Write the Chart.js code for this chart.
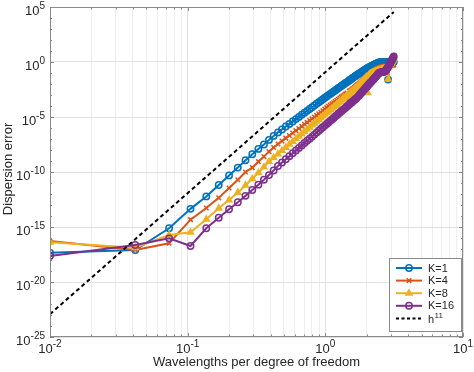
<!DOCTYPE html>
<html><head><meta charset="utf-8">
<script src="https://cdn.jsdelivr.net/npm/chart.js@4.4.1/dist/chart.umd.min.js"></script>
<style>html,body{margin:0;padding:0;background:#fff;}#wrap{width:474px;height:372px;position:relative;}</style>
</head><body><div id="wrap"><canvas id="c" width="474" height="372"></canvas></div>
<script>
// x values: wavelengths per degree of freedom
const wavelengths = [0.0100,0.0416,0.0733,0.1049,0.1365,0.1682,0.1998,0.2314,0.2631,0.2947,
0.3263,0.3580,0.3896,0.4212,0.4529,0.4845,0.5161,0.5478,0.5794,0.6110,
0.6427,0.6743,0.7059,0.7376,0.7692,0.8008,0.8325,0.8641,0.8957,0.9274,
0.9590,0.9906,1.0223,1.0539,1.0855,1.1172,1.1488,1.1804,1.2121,1.2437,
1.2753,1.3069,1.3386,1.3702,1.4018,1.4335,1.4651,1.4967,1.5284,1.5600,
1.5916,1.6233,1.6549,1.6865,1.7182,1.7498,1.7814,1.8131,1.8447,1.8763,
1.9080,1.9396,1.9712,2.0029,2.0345,2.0661,2.0978,2.1294,2.1610,2.1927,
2.2243,2.2559,2.2876,2.3192,2.3508,2.3825,2.4141,2.4457,2.4774,2.5090,
2.5406,2.5723,2.6039,2.6355,2.6672,2.6988,2.7304,2.7621,2.7937,2.8253,
2.8570,2.8886,2.9202,2.9519,2.9835,3.0151,3.0468,3.0784,3.1100,3.1416];

// log10 of dispersion error
const logErrK1 = [-17.34,-17.09,-15.12,-13.35,-12.22,-11.18,-10.31,-9.60,-8.93,-8.38,
-7.90,-7.50,-7.08,-6.72,-6.40,-6.13,-5.87,-5.63,-5.41,-5.19,
-4.99,-4.80,-4.61,-4.44,-4.27,-4.11,-3.95,-3.80,-3.65,-3.52,
-3.38,-3.25,-3.13,-3.01,-2.90,-2.79,-2.68,-2.58,-2.47,-2.37,
-2.28,-2.18,-2.09,-2.00,-1.91,-1.83,-1.74,-1.66,-1.58,-1.50,
-1.42,-1.35,-1.27,-1.20,-1.14,-1.07,-1.01,-0.94,-0.88,-0.82,
-0.76,-0.70,-0.65,-0.59,-0.54,-0.50,-0.46,-0.42,-0.37,-0.33,
-0.29,-0.25,-0.21,-0.17,-0.14,-0.11,-0.08,-0.05,-0.03,-0.01,
-0.01,0.00,0.00,0.00,0.00,0.00,0.00,0.00,0.00,0.00,
-1.60,0.00,0.00,0.00,0.00,0.00,0.00,0.00,0.00,0.00];

const logErrK4 = [-16.27,-17.09,-16.48,-14.33,-13.27,-12.35,-11.45,-10.70,-10.00,-9.60,
-9.06,-8.60,-8.15,-7.77,-7.45,-7.18,-6.92,-6.68,-6.46,-6.24,
-6.04,-5.85,-5.66,-5.49,-5.32,-5.16,-5.00,-4.85,-4.70,-4.57,
-4.43,-4.28,-4.15,-4.03,-3.92,-3.81,-3.70,-3.59,-3.48,-3.38,
-3.28,-3.18,-3.09,-3.00,-2.91,-2.83,-4.05,-2.65,-2.57,-2.49,
-2.41,-2.33,-2.23,-2.14,-2.06,-1.97,-1.89,-1.80,-1.72,-1.64,
-1.56,-1.48,-1.41,-1.33,-1.26,-1.20,-1.14,-1.08,-1.01,-0.95,
-0.89,-0.83,-0.77,-0.71,-0.66,-0.61,-0.57,-0.53,-0.50,-0.47,
-0.46,-0.44,-0.43,-0.42,-0.41,-0.40,-0.39,-0.38,-0.37,-0.36,
-0.35,-0.34,-0.33,-0.32,-0.31,-0.30,-0.29,-0.28,-0.27,-0.26];

const logErrK8 = [-16.39,-16.88,-15.73,-15.48,-14.30,-13.30,-12.55,-11.86,-11.22,-10.62,
-10.08,-9.55,-9.06,-8.70,-8.37,-8.06,-7.77,-7.49,-7.23,-6.99,
-6.76,-6.54,-6.32,-6.12,-5.93,-5.74,-5.57,-5.39,-5.23,-5.07,
-4.91,-4.76,-4.62,-4.48,-4.34,-4.21,-4.08,-3.96,-3.84,-3.72,
-3.60,-3.49,-3.38,-3.27,-3.17,-3.06,-2.96,-2.86,-2.77,-2.67,
-2.58,-2.49,-2.40,-2.31,-2.21,-2.10,-2.00,-1.90,-1.80,-1.71,
-1.61,-1.52,-1.43,-1.34,-2.80,-1.20,-1.13,-1.07,-1.02,-0.98,
-0.95,-0.92,-0.89,-0.86,-0.83,-0.80,-0.78,-0.76,-0.74,-0.72,
-0.70,-0.68,-0.66,-0.64,-0.62,-0.60,-0.58,-0.56,-0.54,-0.52,
-1.55,-0.45,-0.35,-0.25,-0.15,-0.05,0.05,0.15,0.25,0.36];

const logErrK16 = [-17.64,-16.64,-16.03,-16.73,-15.12,-14.16,-13.38,-12.75,-12.17,-11.63,
-11.15,-10.71,-10.28,-9.86,-9.45,-9.13,-8.84,-8.56,-8.29,-8.05,
-7.81,-7.58,-7.37,-7.16,-6.97,-6.78,-6.60,-6.42,-6.25,-6.09,
-5.93,-5.78,-5.63,-5.49,-5.35,-5.22,-5.08,-4.96,-4.83,-4.71,
-4.59,-4.48,-4.37,-4.26,-4.15,-4.05,-3.94,-3.84,-3.75,-3.65,
-3.55,-3.46,-3.37,-3.28,-3.17,-3.06,-2.95,-2.84,-2.74,-2.64,
-2.53,-2.43,-2.34,-2.24,-2.14,-2.05,-1.96,-1.87,-1.78,-1.69,
-1.60,-1.52,-1.43,-1.35,-1.27,-1.17,-1.08,-1.01,-0.97,-0.94,
-0.92,-0.91,-0.90,-0.89,-0.88,-0.87,-0.85,-0.75,-0.64,-0.54,
-0.44,-0.33,-0.23,-0.13,-0.02,0.08,0.19,0.29,0.40,0.50];

// reference slope line h^11
const h11X = [0.01, 3.1416];
const h11Y = [1.2e-23, 3.5e4];

const seriesLabels = ['K=1','K=4','K=8','K=16'];
const xTickValues = [0.01, 0.1, 1, 10];
const xTickExponents = ['-2','-1','0','1'];
const yTickValues = [1e5, 1, 1e-5, 1e-10, 1e-15, 1e-20, 1e-25];
const yTickExponents = ['5','0','-5','-10','-15','-20','-25'];

const colors = ['#0072BD','#D95319','#EDB120','#7E2F8E'];
const styles = [
  {pointStyle:'circle', radius:3.2, fill:false},
  {pointStyle:'crossRot', radius:3.2, fill:false},
  {pointStyle:'triangle', radius:3.4, fill:true},
  {pointStyle:'circle', radius:3.2, fill:false}
];

const xAllTicks = [];
for (let d = -2; d <= 0; d++) for (let m = 1; m <= 9; m++) xAllTicks.push(m * Math.pow(10, d));
xAllTicks.push(10);
const yMinorTicks = [];
for (let d = -25; d <= 5; d++) yMinorTicks.push(Math.pow(10, d));

const toPts = ys => wavelengths.map((x, i) => ({x: x, y: Math.pow(10, ys[i])}));
const allLogs = [logErrK1, logErrK4, logErrK8, logErrK16];

const datasets = allLogs.map((arr, i) => ({
  label: seriesLabels[i],
  data: toPts(arr),
  borderColor: colors[i],
  backgroundColor: styles[i].fill ? colors[i] : 'rgba(0,0,0,0)',
  pointBackgroundColor: styles[i].fill ? colors[i] : 'rgba(0,0,0,0)',
  pointBorderColor: colors[i],
  pointStyle: styles[i].pointStyle,
  pointRadius: styles[i].radius,
  pointBorderWidth: 1.5,
  borderWidth: 2,
  tension: 0,
  order: 5 - i
}));
datasets.push({
  label: 'h11',
  data: h11X.map((x, i) => ({x: x, y: h11Y[i]})),
  borderColor: '#000',
  borderDash: [4, 3],
  borderWidth: 2,
  pointRadius: 0,
  order: 0
});

const TXT = '#262626';
const BOX = '#8a8a8a';

const decor = {
  id: 'decor',
  afterDatasetsDraw(chart) {
    const ctx = chart.ctx, a = chart.chartArea;
    const xs = chart.scales.x, ys = chart.scales.y;
    ctx.save();
    ctx.strokeStyle = BOX; ctx.lineWidth = 1;
    ctx.strokeRect(a.left + 0.5, a.top + 0.5, a.right - a.left - 1, a.bottom - a.top - 1);
    ctx.beginPath();
    xAllTicks.forEach(v => {
      const px = Math.round(xs.getPixelForValue(v)) + 0.5;
      const major = xTickValues.includes(v);
      const len = major ? 4 : 2.5;
      ctx.moveTo(px, a.bottom); ctx.lineTo(px, a.bottom - len);
      ctx.moveTo(px, a.top); ctx.lineTo(px, a.top + len);
    });
    yMinorTicks.forEach(v => {
      const py = Math.round(ys.getPixelForValue(v)) + 0.5;
      const major = yTickValues.includes(v);
      const len = major ? 4 : 2;
      ctx.moveTo(a.left, py); ctx.lineTo(a.left + len, py);
      ctx.moveTo(a.right, py); ctx.lineTo(a.right - len, py);
    });
    ctx.stroke();
    ctx.restore();
  },
  afterDraw(chart) {
    const ctx = chart.ctx, a = chart.chartArea;
    const xs = chart.scales.x, ys = chart.scales.y;
    ctx.save();
    ctx.fillStyle = TXT;
    ctx.textBaseline = 'alphabetic';
    // x tick labels
    xTickValues.forEach((v, i) => {
      const px = xs.getPixelForValue(v);
      ctx.font = '13px "Liberation Sans", Arial, sans-serif';
      const wb = ctx.measureText('10').width;
      ctx.font = '10px "Liberation Sans", Arial, sans-serif';
      const we = ctx.measureText(xTickExponents[i]).width;
      const x0 = px - (wb + we) / 2;
      ctx.font = '13px "Liberation Sans", Arial, sans-serif';
      ctx.textAlign = 'left';
      ctx.fillText('10', x0, 353);
      ctx.font = '10px "Liberation Sans", Arial, sans-serif';
      ctx.fillText(xTickExponents[i], x0 + wb, 347);
    });
    // y tick labels
    yTickValues.forEach((v, i) => {
      const py = ys.getPixelForValue(v);
      ctx.font = '10px "Liberation Sans", Arial, sans-serif';
      const we = ctx.measureText(yTickExponents[i]).width;
      const xr = 45;
      ctx.textAlign = 'right';
      ctx.fillText(yTickExponents[i], xr, py + 2);
      ctx.font = '13px "Liberation Sans", Arial, sans-serif';
      ctx.fillText('10', xr - we, py + 8);
    });
    // axis titles
    ctx.font = '13px "Liberation Sans", Arial, sans-serif';
    ctx.textAlign = 'center';
    ctx.fillText('Wavelengths per degree of freedom', (a.left + a.right) / 2, 366);
    ctx.save();
    ctx.translate(12, (a.top + a.bottom) / 2 - 3);
    ctx.rotate(-Math.PI / 2);
    ctx.fillText('Dispersion error', 0, 0);
    ctx.restore();

    // legend
    const lx = 389.5, ly = 258.5, lw = 72, lh = 73;
    ctx.fillStyle = '#fff';
    ctx.fillRect(lx, ly, lw, lh);
    ctx.strokeStyle = BOX; ctx.lineWidth = 1;
    ctx.strokeRect(lx, ly, lw, lh);
    const rows = [268, 280.6, 293.2, 305.8, 318.4];
    for (let i = 0; i < 4; i++) {
      const yy = rows[i];
      ctx.strokeStyle = colors[i]; ctx.lineWidth = 2; ctx.setLineDash([]);
      ctx.beginPath(); ctx.moveTo(396, yy); ctx.lineTo(422, yy); ctx.stroke();
      ctx.fillStyle = styles[i].fill ? colors[i] : 'rgba(0,0,0,0)';
      ctx.strokeStyle = colors[i]; ctx.lineWidth = 1.5;
      Chart.helpers.drawPoint(ctx, {pointStyle: styles[i].pointStyle, radius: styles[i].radius, borderWidth: 1.5, rotation: 0}, 409, yy);
      ctx.fillStyle = TXT;
      ctx.font = '11px "Liberation Sans", Arial, sans-serif';
      ctx.textAlign = 'left'; ctx.textBaseline = 'middle';
      ctx.fillText(seriesLabels[i], 428, yy + 0.5);
    }
    const yh = rows[4];
    ctx.strokeStyle = '#000'; ctx.lineWidth = 2; ctx.setLineDash([3, 2.5]);
    ctx.beginPath(); ctx.moveTo(396, yh); ctx.lineTo(422, yh); ctx.stroke();
    ctx.setLineDash([]);
    ctx.fillStyle = TXT;
    ctx.font = '11px "Liberation Sans", Arial, sans-serif';
    ctx.textAlign = 'left'; ctx.textBaseline = 'alphabetic';
    ctx.fillText('h', 428, yh + 4.5);
    const wh = ctx.measureText('h').width;
    ctx.font = '8px "Liberation Sans", Arial, sans-serif';
    ctx.fillText('11', 428 + wh + 0.5, yh - 0.5);
    ctx.restore();
  }
};

new Chart(document.getElementById('c'), {
  type: 'line',
  data: {datasets: datasets},
  options: {
    responsive: false,
    animation: false,
    devicePixelRatio: 1,
    layout: {padding: {left: 50, right: 11, top: 7, bottom: 35}},
    plugins: {legend: {display: false}, tooltip: {enabled: false}},
    elements: {line: {fill: false}},
    scales: {
      x: {
        type: 'logarithmic', min: 0.01, max: 10,
        afterBuildTicks: s => { s.ticks = xAllTicks.map(v => ({value: v})); },
        ticks: {display: false},
        grid: {drawTicks: false, lineWidth: 1,
          color: c => (c.tick && xTickValues.includes(c.tick.value)) ? '#e2e2e2' : '#eeeeee'},
        border: {display: false}
      },
      y: {
        type: 'logarithmic', min: 1e-25, max: 1e5,
        afterBuildTicks: s => { s.ticks = yTickValues.map(v => ({value: v})); },
        ticks: {display: false},
        grid: {drawTicks: false, lineWidth: 1, color: '#e2e2e2'},
        border: {display: false}
      }
    }
  },
  plugins: [decor]
});
</script>
</body></html>
